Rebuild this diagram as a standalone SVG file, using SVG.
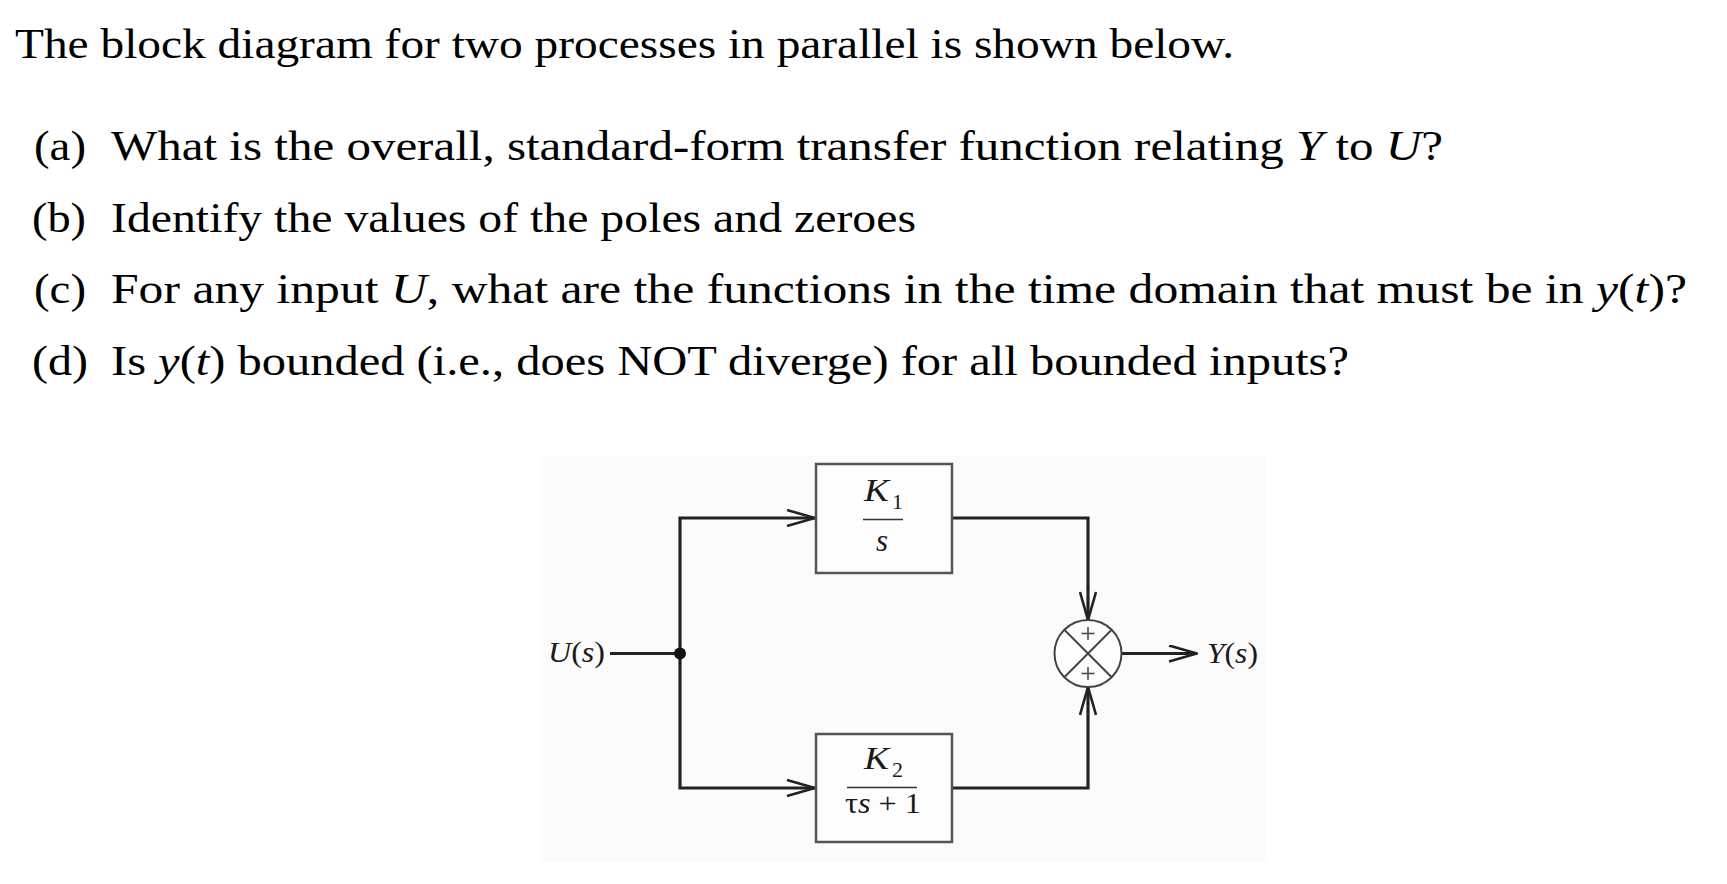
<svg xmlns="http://www.w3.org/2000/svg" width="1727" height="884" viewBox="0 0 1727 884">
<defs>
<style>
.q{font-family:"Liberation Serif","Times New Roman",serif;font-size:42px;fill:#000}
.m{font-style:italic}
.d{font-family:"Liberation Serif","Times New Roman",serif;fill:#1a1a1a}
.blk{fill:#fdfdfd;stroke:#555;stroke-width:2.5}
.wire{fill:none;stroke:#222;stroke-width:3.2}
.thin{fill:none;stroke:#333;stroke-width:1.6}
</style>
<marker id="arr" viewBox="0 0 30 18" refX="29" refY="9" markerWidth="30" markerHeight="18" markerUnits="userSpaceOnUse" orient="auto">
<path d="M1,1 L29,9 L1,17" fill="none" stroke="#222" stroke-width="2.6"/>
</marker>
</defs>
<rect width="1727" height="884" fill="#fff"/>

<g id="text">
<text class="q" x="15" y="58" textLength="1219" lengthAdjust="spacingAndGlyphs">The block diagram for two processes in parallel is shown below.</text>
<text class="q" x="34" y="160" textLength="52" lengthAdjust="spacingAndGlyphs">(a)</text>
<text class="q" x="111" y="160" textLength="1332" lengthAdjust="spacingAndGlyphs">What is the overall, standard-form transfer function relating <tspan class="m">Y</tspan> to <tspan class="m">U</tspan>?</text>
<text class="q" x="32" y="232" textLength="54" lengthAdjust="spacingAndGlyphs">(b)</text>
<text class="q" x="111" y="232" textLength="805" lengthAdjust="spacingAndGlyphs">Identify the values of the poles and zeroes</text>
<text class="q" x="34" y="303" textLength="52" lengthAdjust="spacingAndGlyphs">(c)</text>
<text class="q" x="111" y="303" textLength="1576" lengthAdjust="spacingAndGlyphs">For any input <tspan class="m">U</tspan>, what are the functions in the time domain that must be in <tspan class="m">y</tspan>(<tspan class="m">t</tspan>)?</text>
<text class="q" x="32" y="375" textLength="56" lengthAdjust="spacingAndGlyphs">(d)</text>
<text class="q" x="111" y="375" textLength="1238" lengthAdjust="spacingAndGlyphs">Is <tspan class="m">y</tspan>(<tspan class="m">t</tspan>) bounded (i.e., does NOT diverge) for all bounded inputs?</text>
</g>

<rect x="540" y="456" width="727" height="406" fill="#fbfbfb"/>

<g id="connectors">
<path class="wire" d="M610,653.5 H680"/>
<path class="wire" d="M680,653.5 V518 H815" marker-end="url(#arr)"/>
<path class="wire" d="M680,653.5 V788 H815" marker-end="url(#arr)"/>
<path class="wire" d="M952,518 H1088 V620" marker-end="url(#arr)"/>
<path class="wire" d="M952,788 H1088 V687" marker-end="url(#arr)"/>
<path class="wire" d="M1121.5,653.5 H1197" marker-end="url(#arr)"/>
<circle cx="680" cy="653.5" r="6" fill="#111"/>
</g>

<g id="input">
<text class="d" x="548" y="662" font-size="30" textLength="57" lengthAdjust="spacingAndGlyphs"><tspan class="m">U</tspan>(<tspan class="m">s</tspan>)</text>
</g>

<g id="block1">
<rect class="blk" x="816" y="464" width="136" height="109"/>
<text class="d m" x="864" y="501" font-size="31" textLength="25" lengthAdjust="spacingAndGlyphs">K</text>
<text class="d" x="892" y="509" font-size="22">1</text>
<line class="thin" x1="863" y1="519.5" x2="903" y2="519.5"/>
<text class="d m" x="882" y="550.5" font-size="31" text-anchor="middle">s</text>
</g>

<g id="block2">
<rect class="blk" x="816" y="734" width="136" height="108"/>
<text class="d m" x="864" y="769" font-size="31" textLength="25" lengthAdjust="spacingAndGlyphs">K</text>
<text class="d" x="892" y="777" font-size="22">2</text>
<line class="thin" x1="847" y1="787.5" x2="917" y2="787.5"/>
<text class="d" x="845" y="813" font-size="29" textLength="76" lengthAdjust="spacingAndGlyphs">τ<tspan class="m">s</tspan> + 1</text>
</g>

<g id="sum">
<circle cx="1088" cy="653.5" r="33.5" fill="#fdfdfd" stroke="#444" stroke-width="2"/>
<path d="M1064.3,629.8 L1111.7,677.2 M1064.3,677.2 L1111.7,629.8" stroke="#444" stroke-width="2" fill="none"/>
<path d="M1081.5,633.5 H1094.5 M1088,627 V640 M1081.5,673.5 H1094.5 M1088,667 V680" stroke="#444" stroke-width="1.5" fill="none"/>
</g>

<g id="output">
<text class="d" x="1207" y="663" font-size="30" textLength="51" lengthAdjust="spacingAndGlyphs"><tspan class="m">Y</tspan>(<tspan class="m">s</tspan>)</text>
</g>
</svg>
